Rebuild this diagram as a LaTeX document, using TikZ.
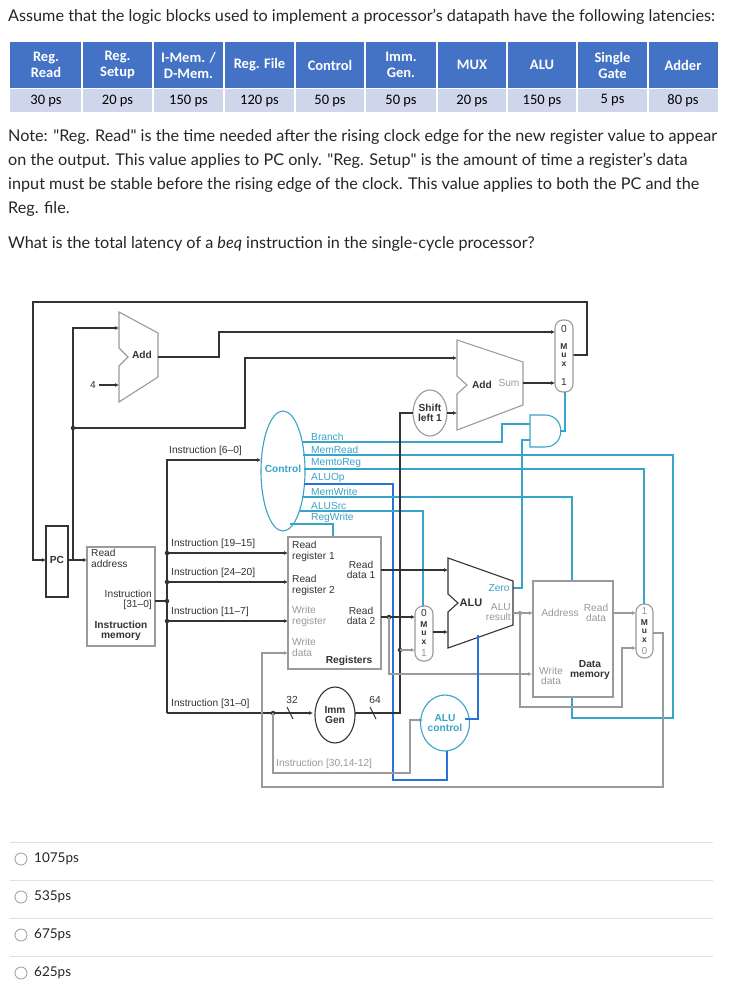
\documentclass[tikz,border=0pt]{standalone}
\usepackage{fontspec}
\setmainfont{Lato}
\newfontfamily\dpf{Liberation Sans}
\newfontfamily\tbf{Carlito}
\usetikzlibrary{arrows.meta,shapes.geometric}
\definecolor{teal}{HTML}{3AA3C9}
\definecolor{hdr}{HTML}{4472C4}
\definecolor{row}{HTML}{CFD5EA}
\definecolor{dk}{HTML}{333333}
\definecolor{gr}{HTML}{9A9A9A}
\newcommand{\qq}{\textquotedbl}
\begin{document}
\begin{tikzpicture}[x=1pt,y=-1pt,
  txt/.style={anchor=west,inner sep=0,font=\fontsize{16.2}{19}\selectfont,text=black!85},
  hd/.style={font=\tbf\bfseries\fontsize{14.5}{16}\selectfont,text=white,align=center,inner sep=0},
  cell/.style={font=\tbf\fontsize{14.5}{16}\selectfont,inner sep=0},
  dp/.style={font=\dpf\fontsize{10.2}{10.5}\selectfont,inner sep=0,text=dk},
  dpb/.style={dp,font=\dpf\bfseries\fontsize{10.2}{10.5}\selectfont},
  dpg/.style={dp,text=gr},
  dpt/.style={dp,text=teal},
  w/.style={draw=dk,line width=1.1pt},
  g/.style={draw=gr,line width=1.1pt},
  t/.style={draw=teal,line width=1.1pt},
  tt/.style={draw=teal!70!blue,line width=2pt},
  ar/.style={-{Latex[length=4pt,width=4pt]}},
  dot/.style={circle,fill=dk,inner sep=1.6pt},
  opt/.style={circle,draw=gr,line width=0.8pt,minimum size=12pt,inner sep=0},
  ot/.style={anchor=west,inner sep=0,font=\fontsize{13.5}{15}\selectfont,text=black!85}]
\useasboundingbox (0,0) rectangle (728,1000);
\fill[white] (0,0) rectangle (728,1000);
% header text
\node[txt] (title) at (8,17) {Assume that the logic blocks used to implement a processor's datapath have the following latencies:};
% table
\fill[hdr] (10,42) rectangle (718,88);
\fill[row] (10,89) rectangle (718,112);
\foreach \x in {82,153,224,295,365,437,507,577,648}{\draw[white,line width=1.2pt] (\x,42)--(\x,112);}
\draw[white,line width=1.2pt] (10,88.5)--(718,88.5);
\foreach \a/\b/\h/\v [count=\i] in {10/82/{Reg.\\Read}/30 ps,82/153/{Reg.\\Setup}/20 ps,153/224/{I-Mem. /\\D-Mem.}/150 ps,224/295/Reg. File/120 ps,295/365/Control/50 ps,365/437/{Imm.\\Gen.}/50 ps,437/507/MUX/20 ps,507/577/ALU/150 ps,577/648/{Single\\Gate}/5 ps,648/718/Adder/80 ps}{
  \node[hd] (h\i) at ({(\a+\b)/2},65) {\h};
  \node[cell] (c\i) at ({(\a+\b)/2},100.5) {\v};}
% note
\node[txt] (n1) at (8,137) {Note: \qq Reg. Read\qq{} is the time needed after the rising clock edge for the new register value to appear};
\node[txt] (n2) at (8,161) {on the output. This value applies to PC only. \qq Reg. Setup\qq{} is the amount of time a register's data};
\node[txt] (n3) at (8,185) {input must be stable before the rising edge of the clock. This value applies to both the PC and the};
\node[txt] (n4) at (8,209) {Reg. file.};
\node[txt] (q) at (8,244) {What is the total latency of a \textit{beq} instruction in the single-cycle processor?};

% ================= datapath =================
% PC
\draw[w] (46,526) rectangle (68,597); \node[dpb] (pc) at (57,560) {PC};
% instruction memory
\draw[g] (87,547) rectangle (155,646);
\node[dp,anchor=north west,align=left] (ra) at (91,549) {Read\\address};
\node[dp,anchor=east,align=right] (io) at (152,600) {Instruction\\{[31–0]}};
\node[dpb,align=center] (im) at (121,631) {Instruction\\memory};
% Add1
\draw[g] (119,312)--(158,333)--(158,377)--(119,402)--(119,366)--(128,357)--(119,348)--cycle;
\node[dpb] (add1) at (142,355) {Add};
\node[dp] (four) at (93,385) {4};
\draw[w,ar] (99,385)--(119,385);
% PC loop
\draw[w,ar] (573,355)--(587,355)--(587,302)--(33,302)--(33,560)--(46,560);
\draw[w,ar] (68,560)--(87,560);
\draw[w,ar] (73,560)--(73,328)--(119,328);
\node[dot] (d1) at (73,428) {};
\draw[w,ar] (73,428)--(245,428)--(245,358)--(457,358);
\draw[w,ar] (158,357)--(219,357)--(219,332)--(555,332);
% PC mux
\draw[g,rounded corners=8pt] (555,320) rectangle (573,392);
\node[dp] at (564,329) {0};
\node[dpb,align=center,font=\dpf\bfseries\fontsize{8.5}{8.5}\selectfont] (m1) at (564,355) {M\\u\\x};
\node[dp] at (564,382) {1};
% Add2
\draw[g] (457,340)--(523,362)--(523,405)--(457,430)--(457,394)--(467,385)--(457,376)--cycle;
\node[dpb] (add2) at (482,385) {Add};
\node[dpg] (sum) at (509,383) {Sum};
\draw[w,ar] (523,383)--(555,383);
% shift left
\node[ellipse,draw=gr,line width=1.1pt,minimum width=34pt,minimum height=46pt,inner sep=0,dpb,align=center] (sl) at (430,413) {Shift\\left 1};
\draw[w,ar] (447,413)--(457,413);
% AND gate
\draw[t] (530,415)--(545,415) .. controls (566,415) and (566,447) .. (545,447) --(530,447)--cycle;
\draw[t] (560.8,431)--(565,431)--(565,392);
% control
\node[ellipse,draw=teal,line width=1.1pt,minimum width=44pt,minimum height=120pt,inner sep=0] (ctl) at (283,471) {};
\node[dpb,text=teal] at (283,469) {Control};
\foreach \l/\y in {Branch/442,MemRead/455,MemtoReg/469,ALUOp/484,MemWrite/497,ALUSrc/511,RegWrite/524}{\node[dpt,anchor=south west] at (311,\y-1) {\l};}
\draw[t] (302,442)--(502,442)--(502,424)--(530,424);
\draw[t] (303,455)--(673,455)--(673,718)--(572,718)--(572,697);
\draw[t] (304,469)--(644,469)--(644,604);
\draw[tt] (304,484)--(393,484)--(393,780)--(447,780)--(447,751);
\draw[t] (302,497)--(572,497)--(572,581);
\draw[t] (300,511)--(423,511)--(423,607);
\draw[t] (290,524)--(333,524)--(333,537);
\draw[t] (513,588)--(522,588)--(522,440)--(530,440);
% instruction distribution
\draw[w] (155,601)--(167,601);
\node[dot] at (167,601) {};
\draw[w,ar] (167,713)--(167,460)--(261,460);
\node[dp,anchor=south west] at (169,456) {Instruction [6–0]};
\foreach \y/\l in {553/{Instruction [19–15]},582/{Instruction [24–20]},621/{Instruction [11–7]}}{
  \node[dot] at (167,\y) {};
  \draw[w,ar] (167,\y)--(288,\y);
  \node[dp,anchor=south west] at (171,\y-4) {\l};}
\draw[w,ar] (167,713)--(313,713);
\node[dp,anchor=south west] at (171,709) {Instruction [31–0]};
\node[dot] at (273,713) {};
\draw[w] (287,707)--(293,719); \node[dp] at (292,700) {32};
% registers
\draw[g] (288,537) rectangle (381,669);
\node[dp,anchor=north west,align=left] at (292,541) {Read\\register 1};
\node[dp,anchor=north west,align=left] at (292,575) {Read\\register 2};
\node[dpg,anchor=north west,align=left] at (292,606) {Write\\register};
\node[dpg,anchor=north west,align=left] at (292,638) {Write\\data};
\node[dp,align=center] at (361,570) {Read\\data 1};
\node[dp,align=center] at (361,616) {Read\\data 2};
\node[dpb] (regs) at (349,661) {Registers};
% imm gen
\node[ellipse,draw=dk,line width=1.1pt,minimum width=40pt,minimum height=56pt,inner sep=0,dpb,align=center] (imm) at (335,715) {Imm\\Gen};
\draw[w] (355,713)--(400,713)--(400,413)--(413,413);
\draw[w] (370,707)--(376,719); \node[dp] at (375,700) {64};
\node[dot] at (400,650) {};
\draw[g,ar] (400,650)--(415,650);
% write data loop
\draw[g,ar] (653,633)--(663,633)--(663,787)--(262,787)--(262,653)--(288,653);
% instruction 30,14-12
\draw[g,ar] (273,713)--(273,773)--(410,773)--(410,720)--(423,720);
\node[dpg,anchor=south west] at (276,769) {Instruction [30,14-12]};
% read data
\draw[w,ar] (381,570)--(448,570);
\draw[w,ar] (381,617)--(415,617);
\node[dot] at (389,617) {};
\draw[g,ar] (389,617)--(389,674)--(532,674);
% alusrc mux
\draw[g,rounded corners=8pt] (415,606) rectangle (433,661);
\node[dp] at (424,613) {0};
\node[dpb,align=center,font=\dpf\bfseries\fontsize{8.5}{8.5}\selectfont] at (424,633) {M\\u\\x};
\node[dpg] at (424,653) {1};
\draw[w,ar] (433,632)--(448,632);
% ALU
\draw[draw=dk,line width=1.1pt] (448,558)--(513,581)--(513,625)--(448,648)--(448,612)--(458,603)--(448,594)--cycle;
\node[dpb,font=\dpf\bfseries\fontsize{11}{11}\selectfont] (alu) at (471,603) {ALU};
\node[dpt] at (499,588) {Zero};
\node[dpg,align=right,anchor=east] at (511,612) {ALU\\result};
% alu control
\node[ellipse,draw=teal,line width=1.1pt,minimum width=40pt,minimum height=56pt,inner sep=0,dpb,align=center,text=teal] (aluc) at (445,723) {ALU\\control};
\draw[tt] (478,635)--(478,719)--(465,719);
% ALU result
\node[circle,fill=gr,inner sep=1.5pt] at (520,613) {};
\draw[g,ar] (513,613)--(533,613);
\draw[g,ar] (520,613)--(520,707)--(622,707)--(622,648)--(636,648);
% data memory
\draw[g] (533,581) rectangle (613,697);
\node[dpg] at (560,613) {Address};
\node[dpg,align=center] at (596,613) {Read\\data};
\node[dpg,align=center] at (551,676) {Write\\data};
\node[dpb,align=center] at (590,670) {Data\\memory};
\draw[g,ar] (613,613)--(636,613);
% mem mux
\draw[g,rounded corners=8pt] (636,604) rectangle (653,658);
\node[dpg] at (644.5,611) {1};
\node[dpb,align=center,font=\dpf\bfseries\fontsize{8.5}{8.5}\selectfont] at (644.5,631) {M\\u\\x};
\node[dpg] at (644.5,651) {0};
% ================ options ================
\foreach \y in {842,880,918,956}{\draw[black!12,line width=0.8pt] (10,\y)--(713,\y);}
\foreach \y/\l [count=\i] in {859/1075ps,897/535ps,935/675ps,973/625ps}{
  \node[opt] (o\i) at (21,\y) {};
  \node[ot] (ol\i) at (34,\y) {\l};}
\end{tikzpicture}
\end{document}
